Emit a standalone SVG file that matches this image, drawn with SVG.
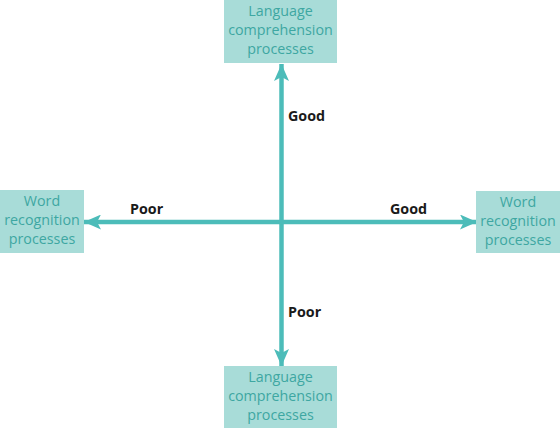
<svg xmlns="http://www.w3.org/2000/svg" width="560" height="428" viewBox="0 0 560 428">
<defs>
<marker id="ah" viewBox="0 0 17 15" refX="17" refY="7.5" markerWidth="17" markerHeight="15" orient="auto" markerUnits="userSpaceOnUse">
<path d="M0,0 L17,7.5 L0,15 L4,7.5 Z" fill="#4cbcb9"/>
</marker>
<style>
.box{fill:#a8dcd8}
.bt{font-family:"Open Sans","Liberation Sans",sans-serif;font-size:14.3px;fill:#3ea7a2;text-anchor:middle}
.lbl{font-family:"Open Sans","Liberation Sans",sans-serif;font-size:14.3px;font-weight:bold;fill:#1a1a1a}
.ln{stroke:#4cbcb9;stroke-width:4.5;fill:none;marker-end:url(#ah)}
</style>
</defs>
<g id="connectors">
<line class="ln" x1="281.5" y1="222" x2="281.5" y2="64"/>
<line class="ln" x1="281.5" y1="222" x2="281.5" y2="366"/>
<line class="ln" x1="281.5" y1="222" x2="84" y2="222"/>
<line class="ln" x1="281.5" y1="222" x2="477" y2="222"/>
</g>
<g id="top">
<rect class="box" x="224" y="0" width="113" height="63"/>
<text class="bt" x="280.5" y="16">Language</text>
<text class="bt" x="280.5" y="35">comprehension</text>
<text class="bt" x="280.5" y="54">processes</text>
</g>
<g id="bottom">
<rect class="box" x="224" y="366" width="113" height="62"/>
<text class="bt" x="280.5" y="382">Language</text>
<text class="bt" x="280.5" y="401">comprehension</text>
<text class="bt" x="280.5" y="420">processes</text>
</g>
<g id="left">
<rect class="box" x="0" y="190" width="84" height="63"/>
<text class="bt" x="42" y="206">Word</text>
<text class="bt" x="42" y="225">recognition</text>
<text class="bt" x="42" y="244">processes</text>
</g>
<g id="right">
<rect class="box" x="476" y="191" width="84" height="62"/>
<text class="bt" x="518" y="207">Word</text>
<text class="bt" x="518" y="226">recognition</text>
<text class="bt" x="518" y="245">processes</text>
</g>
<g id="labels">
<text class="lbl" x="288" y="121">Good</text>
<text class="lbl" x="130" y="214">Poor</text>
<text class="lbl" x="390" y="214">Good</text>
<text class="lbl" x="288" y="317">Poor</text>
</g>
</svg>
